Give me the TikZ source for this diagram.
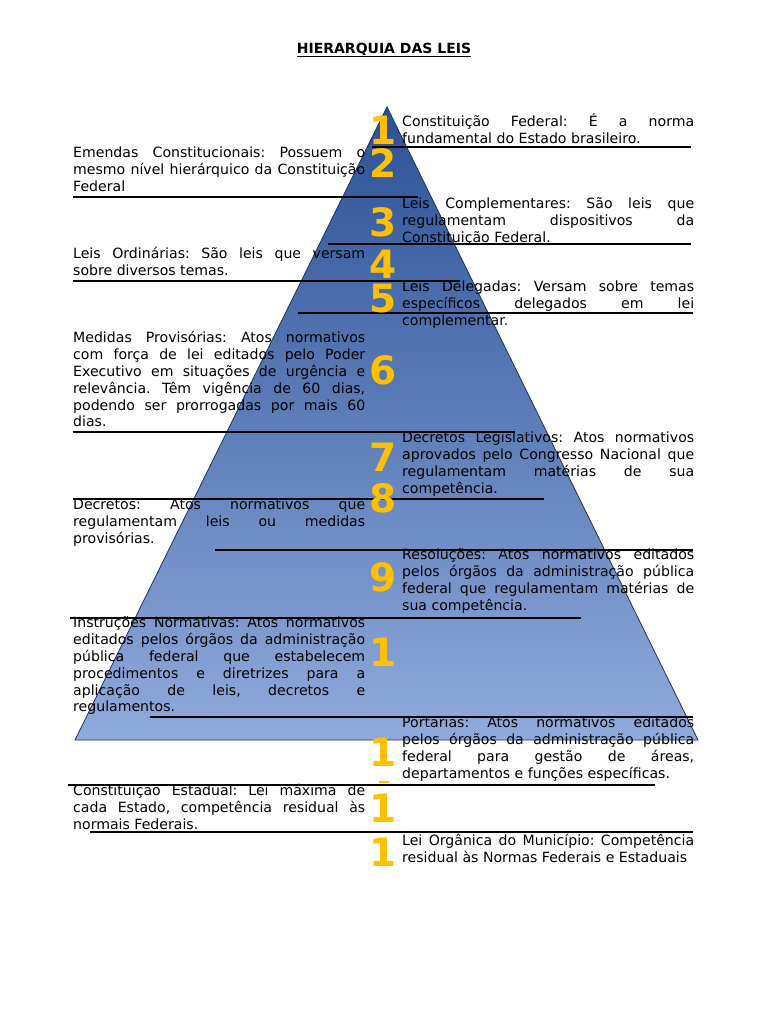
\documentclass[tikz,border=0pt]{standalone}
\usepackage{fontspec}
\setmainfont{DejaVu Sans}
\frenchspacing
\hyphenpenalty=10000
\exhyphenpenalty=10000
\tolerance=9999
\definecolor{pyrtop}{RGB}{44,82,150}
\definecolor{pyrbot}{RGB}{143,170,220}
\definecolor{pyrline}{RGB}{31,48,92}
\definecolor{numyellow}{RGB}{255,192,0}

\begin{document}
\begin{tikzpicture}[x=1pt, y=-1pt,
    txt/.style={anchor=north west, inner sep=0pt, text width=292pt, align=justify, font=\fontsize{14.1}{16.8}\selectfont},
    num/.style={inner sep=0pt, text=numyellow, font=\fontsize{39}{39}\bfseries\selectfont},
    rule/.style={line width=1.6pt}
]
\useasboundingbox (0,0) rectangle (768,1024);

% pyramid
\shade[top color=pyrtop, bottom color=pyrbot] (387,107) -- (75,740) -- (698,740) -- cycle;
\draw[pyrline, line width=0.8pt] (387,107) -- (75,740) -- (698,740) -- cycle;

\node[font=\fontsize{14}{16}\bfseries\selectfont] (title) at (384,50) {\underline{HIERARQUIA DAS LEIS}};

% separating rules
\draw[rule] (372,147) -- (691,147);
\draw[rule] (73,197) -- (418,197);
\draw[rule] (328,244) -- (691,244);
\draw[rule] (73,281) -- (460,281);
\draw[rule] (298,313) -- (693,313);
\draw[rule] (73,432) -- (515,432);
\draw[rule] (73,499) -- (544,499);
\draw[rule] (215,550) -- (693,550);
\draw[rule] (70,618) -- (581,618);
\draw[rule] (150,717) -- (693,717);
\draw[rule] (68,785) -- (655,785);
\draw[rule] (90,832) -- (693,832);

% right column
\node[txt] (cf) at (402,113) {\strut Constituição Federal: É a norma\linebreak fundamental do Estado brasileiro.};
\node[txt] (lc) at (402,197) {\strut Leis Complementares: São leis que\linebreak regulamentam dispositivos da\linebreak Constituição Federal.};
\node[txt] (ld) at (402,280) {\strut Leis Delegadas: Versam sobre temas\linebreak específicos delegados em lei\linebreak complementar.};
\node[txt] (dl) at (402,431) {\strut Decretos Legislativos: Atos normativos\linebreak aprovados pelo Congresso Nacional que\linebreak regulamentam matérias de sua\linebreak competência.};
\node[txt] (res) at (402,548) {\strut Resoluções: Atos normativos editados\linebreak pelos órgãos da administração pública\linebreak federal que regulamentam matérias de\linebreak sua competência.};
\node[txt] (port) at (402,716) {\strut Portarias: Atos normativos editados\linebreak pelos órgãos da administração pública\linebreak federal para gestão de áreas,\linebreak departamentos e funções específicas.};
\node[txt] (lom) at (402,834) {\strut Lei Orgânica do Município: Competência\linebreak residual às Normas Federais e Estaduais};

% left column
\node[txt] (ec) at (73,146) {\strut Emendas Constitucionais: Possuem o\linebreak mesmo nível hierárquico da Constituição\linebreak Federal};
\node[txt] (lo) at (73,247) {\strut Leis Ordinárias: São leis que versam\linebreak sobre diversos temas.};
\node[txt] (mp) at (73,331) {\strut Medidas Provisórias: Atos normativos\linebreak com força de lei editados pelo Poder\linebreak Executivo em situações de urgência e\linebreak relevância. Têm vigência de 60 dias,\linebreak podendo ser prorrogadas por mais 60\linebreak dias.};
\node[txt] (dec) at (73,498) {\strut Decretos: Atos normativos que\linebreak regulamentam leis ou medidas\linebreak provisórias.};
\node[txt] (inn) at (73,616) {\strut Instruções Normativas: Atos normativos\linebreak editados pelos órgãos da administração\linebreak pública federal que estabelecem\linebreak procedimentos e diretrizes para a\linebreak aplicação de leis, decretos e\linebreak regulamentos.};
\node[txt] (ce) at (73,784) {\strut Constituição Estadual: Lei máxima de\linebreak cada Estado, competência residual às\linebreak normais Federais.};

% level numbers
\foreach \lbl/\y [count=\i] in {1/130, 2/163, 3/222, 4/264, 5/299, 6/370, 7/457, 8/498, 9/577, 1/652, 1/752, 1/808, 1/852}
  \node[num] (n\i) at (383,\y) {\lbl};
\fill[numyellow] (379,781) rectangle (389,783);
\end{tikzpicture}
\end{document}
